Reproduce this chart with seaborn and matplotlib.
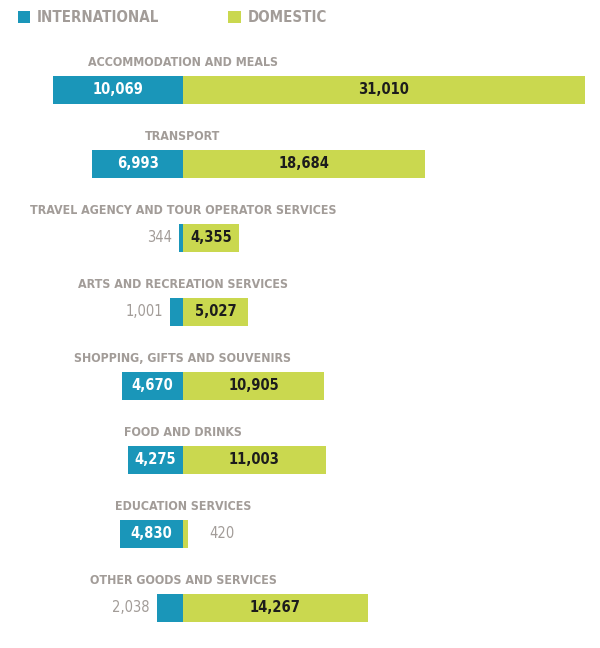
import pandas as pd
import seaborn as sns
import matplotlib.pyplot as plt

# values
categories = ['ACCOMMODATION AND MEALS', 'TRANSPORT',
              'TRAVEL AGENCY AND TOUR OPERATOR SERVICES',
              'ARTS AND RECREATION SERVICES',
              'SHOPPING, GIFTS AND SOUVENIRS', 'FOOD AND DRINKS',
              'EDUCATION SERVICES', 'OTHER GOODS AND SERVICES']
international = [10069, 6993, 344, 1001, 4670, 4275, 4830, 2038]
domestic = [31010, 18684, 4355, 5027, 10905, 11003, 420, 14267]

TEAL = '#1a96b9'
GREEN = '#cad84f'
GREY = '#a29c98'

sns.set_style('white')
plt.rcParams['font.family'] = ['DejaVu Sans']
plt.rcParams['font.stretch'] = 'condensed'

df = pd.DataFrame({
    'category': categories * 2,
    'value': [-v for v in international] + domestic,
    'type': ['INTERNATIONAL'] * len(categories) + ['DOMESTIC'] * len(categories),
})

fig = plt.figure(figsize=(6, 6.48), dpi=100)
ax = fig.add_axes([0, 0, 1, 1])

sns.barplot(data=df, y='category', x='value', hue='type', orient='h',
            dodge=False, width=0.38, palette=[TEAL, GREEN], ax=ax,
            saturation=1, linewidth=0)

# pixel-like layout: bar i centred at 90 + 74*i px
ax.set_ylim((648 - 90) / 74, -90 / 74)
ax.set_xlim(-183 / 0.01296, 417 / 0.01296)
ax.axis('off')

for i, cat in enumerate(categories):
    ax.text(0, i - 0.365, cat, ha='center', va='center', fontsize=8.9,
            fontweight='bold', color=GREY)
    iv, dv = international[i], domestic[i]
    if iv >= 3500:
        ax.text(-iv / 2, i, f'{iv:,}', ha='center', va='center',
                fontsize=10.5, fontweight='bold', color='white')
    else:
        ax.annotate(f'{iv:,}', (-iv, i), xytext=(-5, 0),
                    textcoords='offset points', ha='right', va='center',
                    fontsize=10.5, color=GREY)
    if dv >= 3500:
        ax.text(dv / 2, i, f'{dv:,}', ha='center', va='center',
                fontsize=10.5, fontweight='bold', color='#1c1c1c')
    else:
        ax.annotate(f'{dv:,}', (dv, i), xytext=(15, 0),
                    textcoords='offset points', ha='left', va='center',
                    fontsize=10.5, color=GREY)

leg = ax.legend(loc='upper left', bbox_to_anchor=(0.013, 1.0), ncol=2,
                frameon=False, fontsize=10.8, handlelength=0.85,
                handleheight=0.85, handletextpad=0.45, columnspacing=4.6,
                borderaxespad=0.25)
for t in leg.get_texts():
    t.set_color(GREY)
    t.set_fontweight('bold')

fig.savefig('out.png', dpi=100)
